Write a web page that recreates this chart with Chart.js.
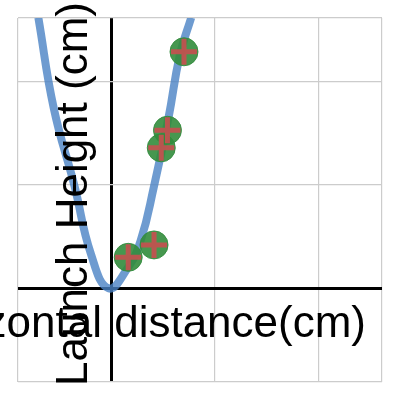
<!DOCTYPE html>
<html><head><script src="https://cdn.jsdelivr.net/npm/chart.js@4"></script>
<style>html,body{margin:0;padding:0;background:#fff}#w{width:400px;height:400px}</style></head>
<body><div id="w"><canvas id="c"></canvas></div>
<script>
const curveX=[-0.71,-0.56,-0.36,-0.20,-0.03,0.15,0.28,0.41,0.55,0.66,0.77];
const curveY=[2.62,1.74,0.99,0.33,0.0,0.19,0.46,0.99,1.65,2.26,2.62];
const pointX=[0.16,0.41,0.48,0.54,0.70];
const pointY=[0.30,0.42,1.36,1.53,2.29];
const xTitle="Horizontal distance(cm)";
const yTitle="Launch Height (cm)";
const curve=curveX.map((x,i)=>({x,y:curveY[i]}));
const pts=pointX.map((x,i)=>({x,y:pointY[i]}));
const titles={id:'titles',afterDraw(ch){const c=ch.ctx;
c.save();c.fillStyle='#000';c.font='44px "Liberation Sans", Arial';c.textBaseline='middle';
c.textAlign='right';c.fillText(xTitle,366,325);
c.translate(75,0);c.rotate(-Math.PI/2);c.textAlign='right';c.fillText(yTitle,-2,0);
c.restore();}};
const grid={drawTicks:false,color:c=>c.tick.value===0?'#000':'#ccc',lineWidth:c=>c.tick.value===0?3:1.2};
new Chart(document.getElementById('c'),{type:'scatter',
data:{datasets:[
{data:pts,pointStyle:'circle',pointRadius:14,backgroundColor:'rgba(50,140,60,0.9)',borderColor:'rgba(50,140,60,0.9)',order:1},
{data:pts,pointStyle:'cross',pointRadius:13,borderColor:'rgba(200,80,80,0.9)',borderWidth:5,order:0},
{type:'line',data:curve,showLine:true,tension:0.45,borderColor:'rgba(74,130,196,0.8)',borderWidth:8,pointRadius:0,fill:false,order:2}
]},
options:{responsive:true,maintainAspectRatio:false,animation:false,layout:{padding:0},
plugins:{legend:{display:false},tooltip:{enabled:false}},
scales:{
x:{type:'linear',min:-0.907,max:2.617,border:{display:false},ticks:{display:false,stepSize:1},grid,afterFit:s=>{s.height=0;}},
y:{type:'linear',min:-0.907,max:2.617,border:{display:false},ticks:{display:false,stepSize:1},grid,afterFit:s=>{s.width=0;}}}},
plugins:[titles]});
</script></body></html>
